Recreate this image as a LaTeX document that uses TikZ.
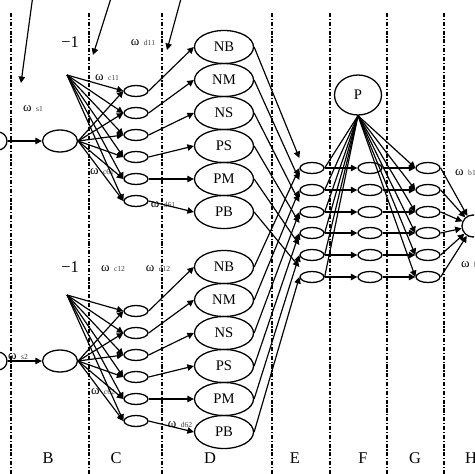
\documentclass[tikz,border=0pt]{standalone}
\usepackage{fontspec}
\setmainfont{Liberation Serif}
\usetikzlibrary{shapes.geometric,arrows.meta,calc}
\tikzset{
 cell/.style={draw,ellipse,line width=1.1pt,minimum width=0.72cm,minimum height=0.33cm,inner sep=0pt},
 fset/.style={draw,ellipse,line width=1.1pt,minimum width=1.77cm,minimum height=0.99cm,inner sep=0pt,font=\fontsize{12.5}{12.5}\selectfont},
 sep/.style={line width=1pt,dash pattern=on 3.5pt off 1.5pt on 1pt off 1.5pt},
 arr/.style={-{Triangle[length=5.5pt,width=5.5pt]},line width=1pt},
 wt/.style={font=\fontsize{11}{11}\selectfont,inner sep=0pt},
 big/.style={font=\fontsize{14}{14}\selectfont,inner sep=0pt},
}
\newcommand{\wlab}[1]{ω\hspace{0.35em}{\fontsize{6.5}{6.5}\selectfont\color{black!75}#1}}
\begin{document}
\begin{tikzpicture}[x=0.03cm,y=-0.03cm]
 \useasboundingbox (0,0) rectangle (474,474);
 \clip (0,0) rectangle (474,474);
 \foreach \x in {11,89,162,272,330,387,444} \draw[sep] (\x,13)--(\x,474); %layer borders
 \foreach \x/\t in {48/B,116/C,210/D,295/E,363/F,415/G,471/H} \node[big] (lab\t) at (\x,458) {\t}; %layer names
 % weight labels
 \node[wt] (ws1) at (33,109) {\wlab{s1}};
 \node[big] (m1) at (70,42) {−1};
 \node[wt] (wc11) at (107,78) {\wlab{c11}};
 \node[wt] (wd11) at (143,43) {\wlab{d11}};
 \node[wt] (wc61) at (102,172) {\wlab{c61}};
 \node[wt] (wd61) at (163,205) {\wlab{d61}};
 \node[wt] (ws2) at (18,357) {\wlab{s2}};
 \node[big] (m2) at (70,267) {−1};
 \node[wt] (wc12) at (113,269) {\wlab{c12}};
 \node[wt] (wd12) at (158,269) {\wlab{d12}};
 \node[wt] (wc62) at (103,392) {\wlab{c62}};
 \node[wt] (wd62) at (180,425) {\wlab{d62}};
 \node[wt,anchor=west] (wb1) at (455,173) {\wlab{b1}};
 \node[wt,anchor=west] (wb2) at (461,265) {\wlab{b2}};
 % weight inputs from above
 \coordinate (top1) at (33,-5); \coordinate (tip1) at (21,83); \draw[arr] (top1)--(tip1);
 \coordinate (top2) at (112,-5); \coordinate (tip2) at (93,55); \draw[arr] (top2)--(tip2);
 \coordinate (top3) at (182,-5); \coordinate (tip3) at (167,50); \draw[arr] (top3)--(tip3);
 % two input branches
 \foreach \g/\dy in {1/0,2/220} {
  \node[draw,circle,line width=1.1pt,minimum size=0.54cm,inner sep=0pt] (in\g) at (-2,141+\dy) {};
  \node[draw,ellipse,line width=1.1pt,minimum width=1.05cm,minimum height=0.66cm,inner sep=0pt] (b\g) at (60,141+\dy) {};
  \coordinate (bias\g) at (67,75+\dy);
  \foreach \i/\y in {1/91,2/113,3/135,4/157,5/179,6/201} \node[cell] (c\g\i) at (136,\y+\dy) {};
  \foreach \i/\n/\y in {1/NB/47,2/NM/80,3/NS/113,4/PS/146,5/PM/179,6/PB/212} \node[fset] (d\g\i) at (224,\y+\dy) {\n};
  \draw[arr] (in\g.east)--(b\g.west);
  \foreach \i in {1,...,6} {
   \draw[arr] (b\g.east)--(c\g\i.west);
   \draw[arr] (bias\g)--(c\g\i.west);
   \draw[arr] (c\g\i.east)--(d\g\i.west);
  }
 }
 % rule layers
 \node[draw,ellipse,line width=1.1pt,minimum width=1.41cm,minimum height=1.2cm,inner sep=0pt,font=\fontsize{12.5}{12.5}\selectfont] (p) at (358,95) {P};
 \node[draw,circle,line width=1.1pt,minimum size=0.66cm,inner sep=0pt] (h) at (473,226) {};
 \foreach \i/\y in {1/168,2/190,3/212,4/233,5/255,6/277} {
  \node[cell] (e\i) at (312,\y) {};
  \node[cell] (f\i) at (370,\y) {};
  \node[cell] (g\i) at (428,\y) {};
 }
 \foreach \i in {1,...,6} {
  \draw[arr] (d1\i.east)--($(e\i.west)+(0,-10)$);
  \draw[arr] (d2\i.east)--(e\i.west);
  \draw[arr] (e\i.east)--(f\i.west);
  \draw[arr] (f\i.east)--(g\i.west);
  \draw[line width=1pt] (p.south)--(e\i.east);
  \draw[arr] (p.south)--(g\i.west);
  \draw[arr] (g\i.east)--(h);
 }
\end{tikzpicture}
\end{document}
